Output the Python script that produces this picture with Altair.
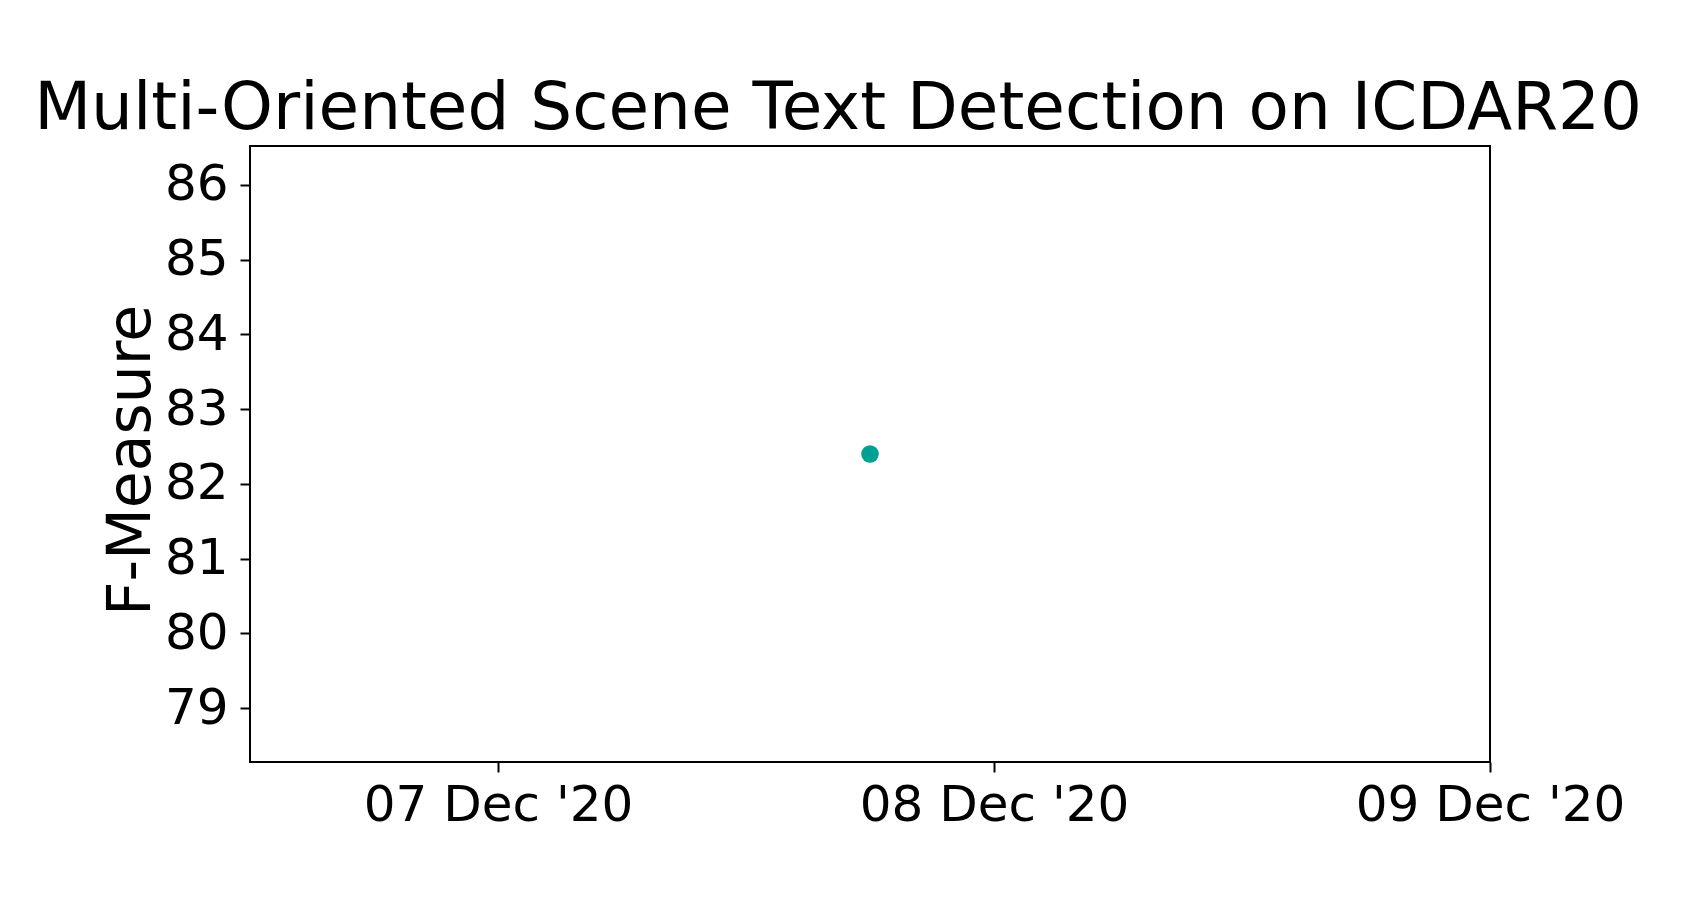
import altair as alt
import pandas as pd

# Data
dates = ["2020-12-07T18:00:00"]
f_measure = [82.4]
title_text = ["Multi-Oriented Scene Text Detection on ICDAR20"]
y_ticks = [79, 80, 81, 82, 83, 84, 85, 86]

df = pd.DataFrame({"date": dates, "F-Measure": f_measure})
tdf = pd.DataFrame({"t": title_text})

FONT = "DejaVu Sans"

x_enc = alt.X(
    "date:T",
    scale=alt.Scale(
        domain=[
            alt.DateTime(year=2020, month=12, date=6, hours=12),
            alt.DateTime(year=2020, month=12, date=9),
        ]
    ),
    axis=alt.Axis(
        title=None,
        values=[
            alt.DateTime(year=2020, month=12, date=7),
            alt.DateTime(year=2020, month=12, date=8),
            alt.DateTime(year=2020, month=12, date=9),
        ],
        format="%d %b '%y",
        formatType="time",
        labelFontSize=50,
        labelFont=FONT,
        labelColor="black",
        labelPadding=8,
        labelLimit=0,
        labelFlush=False,
        labelOverlap=False,
        tickSize=10,
        tickWidth=2,
        tickColor="black",
        domain=False,
        grid=False,
    ),
)

y_enc = alt.Y(
    "F-Measure:Q",
    scale=alt.Scale(domain=[78.28, 86.52], nice=False, zero=False),
    axis=alt.Axis(
        title="F-Measure",
        titleFontSize=60,
        titleFont=FONT,
        titleFontWeight="normal",
        titleColor="black",
        titlePadding=2,
        titleY=314,
        values=y_ticks,
        labelFontSize=50,
        labelFont=FONT,
        labelColor="black",
        labelPadding=12,
        labelLimit=0,
        tickSize=10,
        tickWidth=2,
        tickColor="black",
        domain=False,
        grid=False,
    ),
)

points = alt.Chart(df).mark_circle(size=310, color="#00a194", opacity=1).encode(
    x=x_enc, y=y_enc
)

title = alt.Chart(tdf).mark_text(
    fontSize=66, font=FONT, color="black", align="right", baseline="alphabetic"
).encode(text="t:N", x=alt.value(1392), y=alt.value(-17))

chart = (
    alt.layer(points, title)
    .properties(
        width=1240,
        height=616,
        autosize=alt.AutoSizeParams(type="none"),
        padding={"left": 242, "top": 138, "right": 190, "bottom": 100},
        background="white",
    )
    .configure_view(stroke="black", strokeWidth=2)
)

chart.save("out.html", embed_options={"renderer": "svg", "actions": False})
